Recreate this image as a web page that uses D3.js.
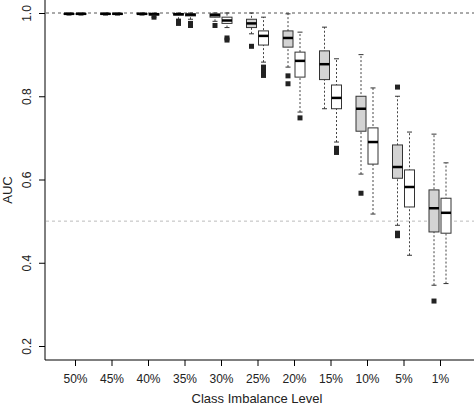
<!DOCTYPE html><html><head><meta charset="utf-8"><script src="https://cdn.jsdelivr.net/npm/d3@7"></script>
<style>body{margin:0;background:#fff}text{font-family:"Liberation Sans",Arial,sans-serif;fill:#222}</style></head><body><svg id="c" width="474" height="410"></svg><script>
const categories=["50%","45%","40%","35%","30%","25%","20%","15%","10%","5%","1%"];
// [lowWhisker,q1,median,q3,highWhisker]
const grayStats=[[0.995,0.997,0.998,0.999,1.0],[0.995,0.997,0.998,0.999,1.0],[0.995,0.997,0.998,0.999,1.0],[0.985,0.995,0.997,0.999,1.0],[0.98,0.99,0.995,0.998,1.0],[0.95,0.965,0.975,0.985,1.0],[0.87,0.918,0.94,0.957,0.998],[0.77,0.84,0.877,0.909,0.966],[0.613,0.716,0.77,0.80,0.9],[0.49,0.603,0.63,0.683,0.80],[0.346,0.474,0.531,0.575,0.709]];
const whiteStats=[[0.995,0.997,0.998,0.999,1.0],[0.995,0.997,0.998,0.999,1.0],[0.99,0.995,0.997,0.999,1.0],[0.985,0.993,0.996,0.998,1.0],[0.965,0.975,0.982,0.99,1.0],[0.882,0.923,0.945,0.957,0.99],[0.762,0.846,0.885,0.906,0.954],[0.69,0.77,0.796,0.827,0.89],[0.517,0.637,0.69,0.724,0.82],[0.418,0.534,0.582,0.623,0.714],[0.35,0.471,0.52,0.555,0.64]];
const grayOutliers=[[],[],[],[0.975,0.98],[0.97],[0.92],[0.849,0.83],[],[0.567],[0.471,0.465,0.822],[0.308]];
const whiteOutliers=[[],[],[0.99],[0.975,0.97],[0.94,0.935],[0.86,0.87,0.85],[0.748],[0.675,0.665],[],[],[]];
const yTicks=[0.2,0.4,0.6,0.8,1.0];
const refLines=[1.0,0.5];
const svg=d3.select("#c");
const y=d3.scaleLinear().domain([0.2,1.0]).range([346,13]);
const x=d3.scalePoint().domain(categories).range([75,440]);
svg.append("g").attr("transform","translate(45,0)").call(d3.axisLeft(y).tickValues(yTicks).tickFormat(d3.format(".1f")).tickSize(6).tickPadding(4))
 .call(g=>{g.select(".domain").attr("d","M-0,0V360");g.selectAll(".tick text").attr("transform","rotate(-90)").attr("x",0).attr("y",-14).attr("dy","0").attr("text-anchor","middle").style("font-size","12px");});
svg.append("g").attr("transform","translate(0,360)").call(d3.axisBottom(x).tickSize(6).tickPadding(8))
 .call(g=>{g.select(".domain").attr("d","M45,0H474");g.selectAll(".tick text").style("font-size","12px");});
svg.selectAll(".ref").data(refLines).join("line").attr("x1",46).attr("x2",474).attr("y1",d=>y(d)).attr("y2",d=>y(d))
 .attr("stroke",(d,i)=>i?"#bbb":"#555").attr("stroke-dasharray","3,3");
function draw(stats,outs,off,fill){
 const g=svg.append("g");
 stats.forEach((s,i)=>{const cx=x(categories[i])+off,w=10;
  g.append("line").attr("x1",cx).attr("x2",cx).attr("y1",y(s[0])).attr("y2",y(s[4])).attr("stroke","#444").attr("stroke-dasharray","2,2");
  [s[0],s[4]].forEach(v=>g.append("line").attr("x1",cx-2.5).attr("x2",cx+2.5).attr("y1",y(v)).attr("y2",y(v)).attr("stroke","#333"));
  g.append("rect").attr("x",cx-w/2).attr("width",w).attr("y",y(s[3])).attr("height",Math.max(1,y(s[1])-y(s[3]))).attr("fill",fill).attr("stroke","#333");
  g.append("line").attr("x1",cx-w/2).attr("x2",cx+w/2).attr("y1",y(s[2])).attr("y2",y(s[2])).attr("stroke","#000").attr("stroke-width",2.5);
  outs[i].forEach(v=>g.append("rect").attr("x",cx-2.5).attr("y",y(v)-2.5).attr("width",5).attr("height",5).attr("fill","#222"));
 });}
draw(grayStats,grayOutliers,-6,"#d3d3d3");
draw(whiteStats,whiteOutliers,6,"#fff");
svg.append("text").attr("transform","translate(12,190) rotate(-90)").attr("text-anchor","middle").style("font-size","13px").text("AUC");
svg.append("text").attr("x",257).attr("y",403).attr("text-anchor","middle").style("font-size","13px").text("Class Imbalance Level");
</script></body></html>
